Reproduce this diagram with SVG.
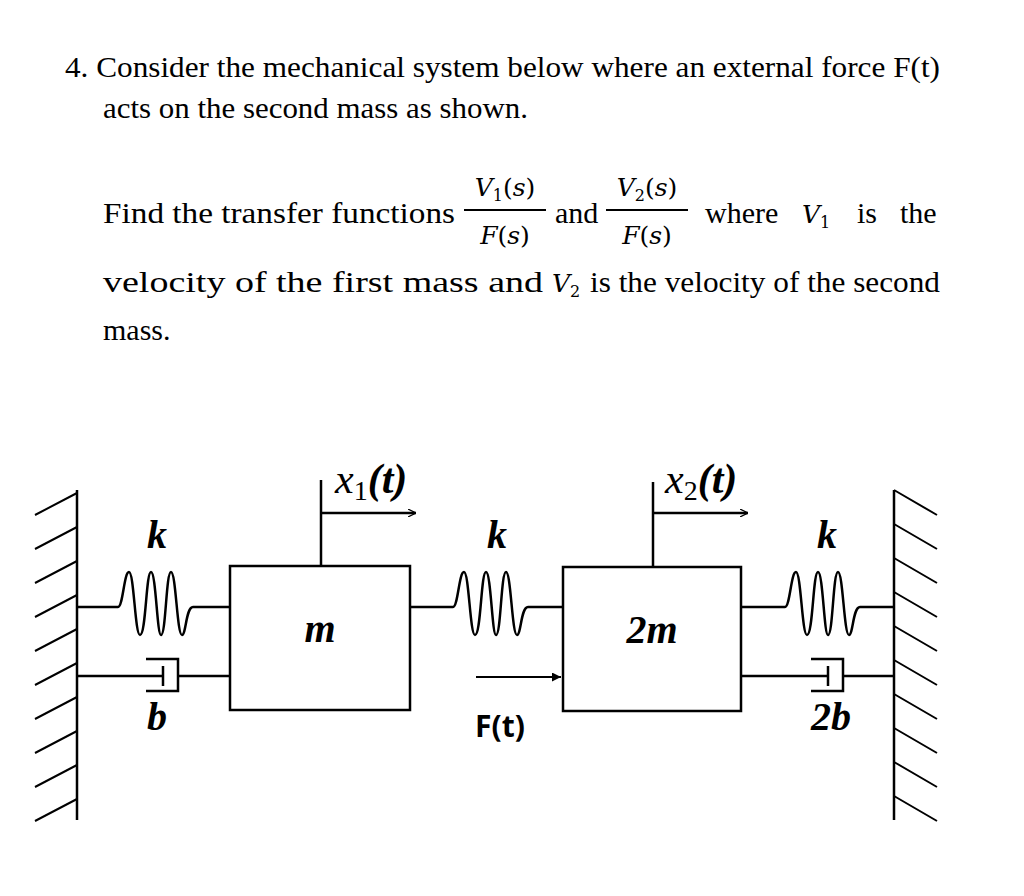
<svg xmlns="http://www.w3.org/2000/svg" width="1024" height="896" viewBox="0 0 1024 896">
<style>
.t{font-family:"Liberation Serif",serif;font-size:30px;fill:#000}
.m{font-family:"DejaVu Serif","Liberation Serif",serif;font-style:italic;font-size:25px;fill:#000}
.lb{font-family:"Liberation Serif",serif;font-style:italic;font-weight:bold;font-size:40px;fill:#000}
.ln{stroke:#000;stroke-width:2.5;fill:none}
.h{stroke:#000;stroke-width:2;fill:none}
</style>
<defs>
<marker id="ar" viewBox="0 0 10 10" refX="10" refY="5" markerWidth="8" markerHeight="8" orient="auto" markerUnits="userSpaceOnUse"><path d="M0,0 L10,5 L0,10" fill="none" stroke="#000" stroke-width="1.5"/></marker>
<marker id="af" viewBox="0 0 10 10" refX="10" refY="5" markerWidth="11" markerHeight="9" orient="auto" markerUnits="userSpaceOnUse"><path d="M0,0 L10,5 L0,10 z" fill="#000"/></marker>
<path id="coil" class="ln" d="M118,607 C123,607 124,572 129,572 C134,572 135,635 140,635 C146,635 146,572 151,572 C156,572 157,635 161,635 C166,635 166,572 171,572 C176,572 177,635 182,635 C186,635 186,607 193,607"/>
</defs>
<rect width="1024" height="896" fill="#fff"/>
<g id="text">
<text class="t" x="65" y="77" textLength="875" lengthAdjust="spacingAndGlyphs">4.  Consider the mechanical system below where an external force F(t)</text>
<text class="t" x="103" y="118" textLength="425" lengthAdjust="spacingAndGlyphs">acts on the second mass as shown.</text>
<text class="t" x="103" y="223" textLength="352" lengthAdjust="spacingAndGlyphs">Find the transfer functions</text>
<text class="m" x="505" y="196" text-anchor="middle">V<tspan font-size="16" dy="5" font-style="normal">1</tspan><tspan dy="-5" font-style="normal">(</tspan>s<tspan font-style="normal">)</tspan></text>
<line x1="464" y1="210" x2="546" y2="210" stroke="#000" stroke-width="2"/>
<text class="m" x="505" y="244" text-anchor="middle">F<tspan font-style="normal">(</tspan>s<tspan font-style="normal">)</tspan></text>
<text class="t" x="555" y="223">and</text>
<text class="m" x="647" y="196" text-anchor="middle">V<tspan font-size="16" dy="5" font-style="normal">2</tspan><tspan dy="-5" font-style="normal">(</tspan>s<tspan font-style="normal">)</tspan></text>
<line x1="606" y1="210" x2="688" y2="210" stroke="#000" stroke-width="2"/>
<text class="m" x="647" y="244" text-anchor="middle">F<tspan font-style="normal">(</tspan>s<tspan font-style="normal">)</tspan></text>
<text class="t" x="705" y="223">where</text>
<text class="m" x="802" y="223">V<tspan font-size="16" dy="5" font-style="normal">1</tspan></text>
<text class="t" x="857" y="223">is</text>
<text class="t" x="900" y="223">the</text>
<text class="t" x="103" y="292" textLength="440" lengthAdjust="spacingAndGlyphs">velocity of the first mass and</text>
<text class="m" x="552" y="292">V<tspan font-size="16" dy="5" font-style="normal">2</tspan></text>
<text class="t" x="590" y="292" textLength="350" lengthAdjust="spacingAndGlyphs">is the velocity of the second</text>
<text class="t" x="103" y="340">mass.</text>
</g>
<g id="wall-left">
<line class="ln" x1="77" y1="490" x2="77" y2="820"/>
<path class="h" d="M77,493 L35,515 M77,527 L35,549 M77,561 L35,583 M77,595 L35,617 M77,629 L35,651 M77,663 L35,685 M77,697 L35,719 M77,731 L35,753 M77,765 L35,787 M77,799 L35,821"/>
</g>
<g id="wall-right">
<line class="ln" x1="894" y1="490" x2="894" y2="820"/>
<path class="h" d="M894,490 L937,515 M894,524 L937,549 M894,558 L937,583 M894,592 L937,617 M894,626 L937,651 M894,660 L937,685 M894,694 L937,719 M894,728 L937,753 M894,762 L937,787 M894,796 L937,821"/>
</g>
<g id="mass1">
<rect class="ln" x="230" y="566" width="180" height="144"/>
<text class="lb" x="320" y="642" text-anchor="middle">m</text>
</g>
<g id="mass2">
<rect class="ln" x="563" y="567" width="178" height="144"/>
<text class="lb" x="652" y="643" text-anchor="middle">2m</text>
</g>
<g id="connectors">
<line class="ln" x1="77" y1="607" x2="118" y2="607"/>
<use href="#coil"/>
<line class="ln" x1="193" y1="607" x2="230" y2="607"/>
<line class="ln" x1="77" y1="676" x2="163" y2="676"/>
<line class="ln" x1="163" y1="666" x2="163" y2="686"/>
<path class="ln" d="M146,659 H178 V691 H146"/>
<line class="ln" x1="178" y1="676" x2="230" y2="676"/>
<line class="ln" x1="410" y1="607" x2="453" y2="607"/>
<use href="#coil" transform="translate(335,0)"/>
<line class="ln" x1="528" y1="607" x2="563" y2="607"/>
<line class="ln" x1="741" y1="607" x2="785" y2="607"/>
<use href="#coil" transform="translate(667,0)"/>
<line class="ln" x1="860" y1="607" x2="894" y2="607"/>
<line class="ln" x1="741" y1="676" x2="828" y2="676"/>
<line class="ln" x1="828" y1="666" x2="828" y2="686"/>
<path class="ln" d="M811,659 H843 V691 H811"/>
<line class="ln" x1="843" y1="676" x2="894" y2="676"/>
<line class="ln" x1="321" y1="480" x2="321" y2="566"/>
<line class="ln" x1="321" y1="513" x2="416" y2="513" marker-end="url(#ar)"/>
<line class="ln" x1="653" y1="482" x2="653" y2="567"/>
<line class="ln" x1="653" y1="513" x2="748" y2="513" marker-end="url(#ar)"/>
<line class="h" x1="476" y1="677" x2="561" y2="677" marker-end="url(#af)"/>
</g>
<g id="labels">
<text class="lb" x="157" y="548" text-anchor="middle">k</text>
<text class="lb" x="497" y="548" text-anchor="middle">k</text>
<text class="lb" x="827" y="548" text-anchor="middle">k</text>
<text class="lb" x="157" y="730" text-anchor="middle">b</text>
<text class="lb" x="831" y="730" text-anchor="middle">2b</text>
<text x="500" y="737" text-anchor="middle" font-family="'Open Sans',sans-serif" font-weight="bold" font-size="30">F(t)</text>
<text x="335" y="493" font-family="'Liberation Serif',serif" font-style="italic" font-size="42">x<tspan font-style="normal" font-size="28" dy="7">1</tspan><tspan dy="-7" font-weight="bold">(t)</tspan></text>
<text x="665" y="493" font-family="'Liberation Serif',serif" font-style="italic" font-size="42">x<tspan font-style="normal" font-size="28" dy="7">2</tspan><tspan dy="-7" font-weight="bold">(t)</tspan></text>
</g>
</svg>
